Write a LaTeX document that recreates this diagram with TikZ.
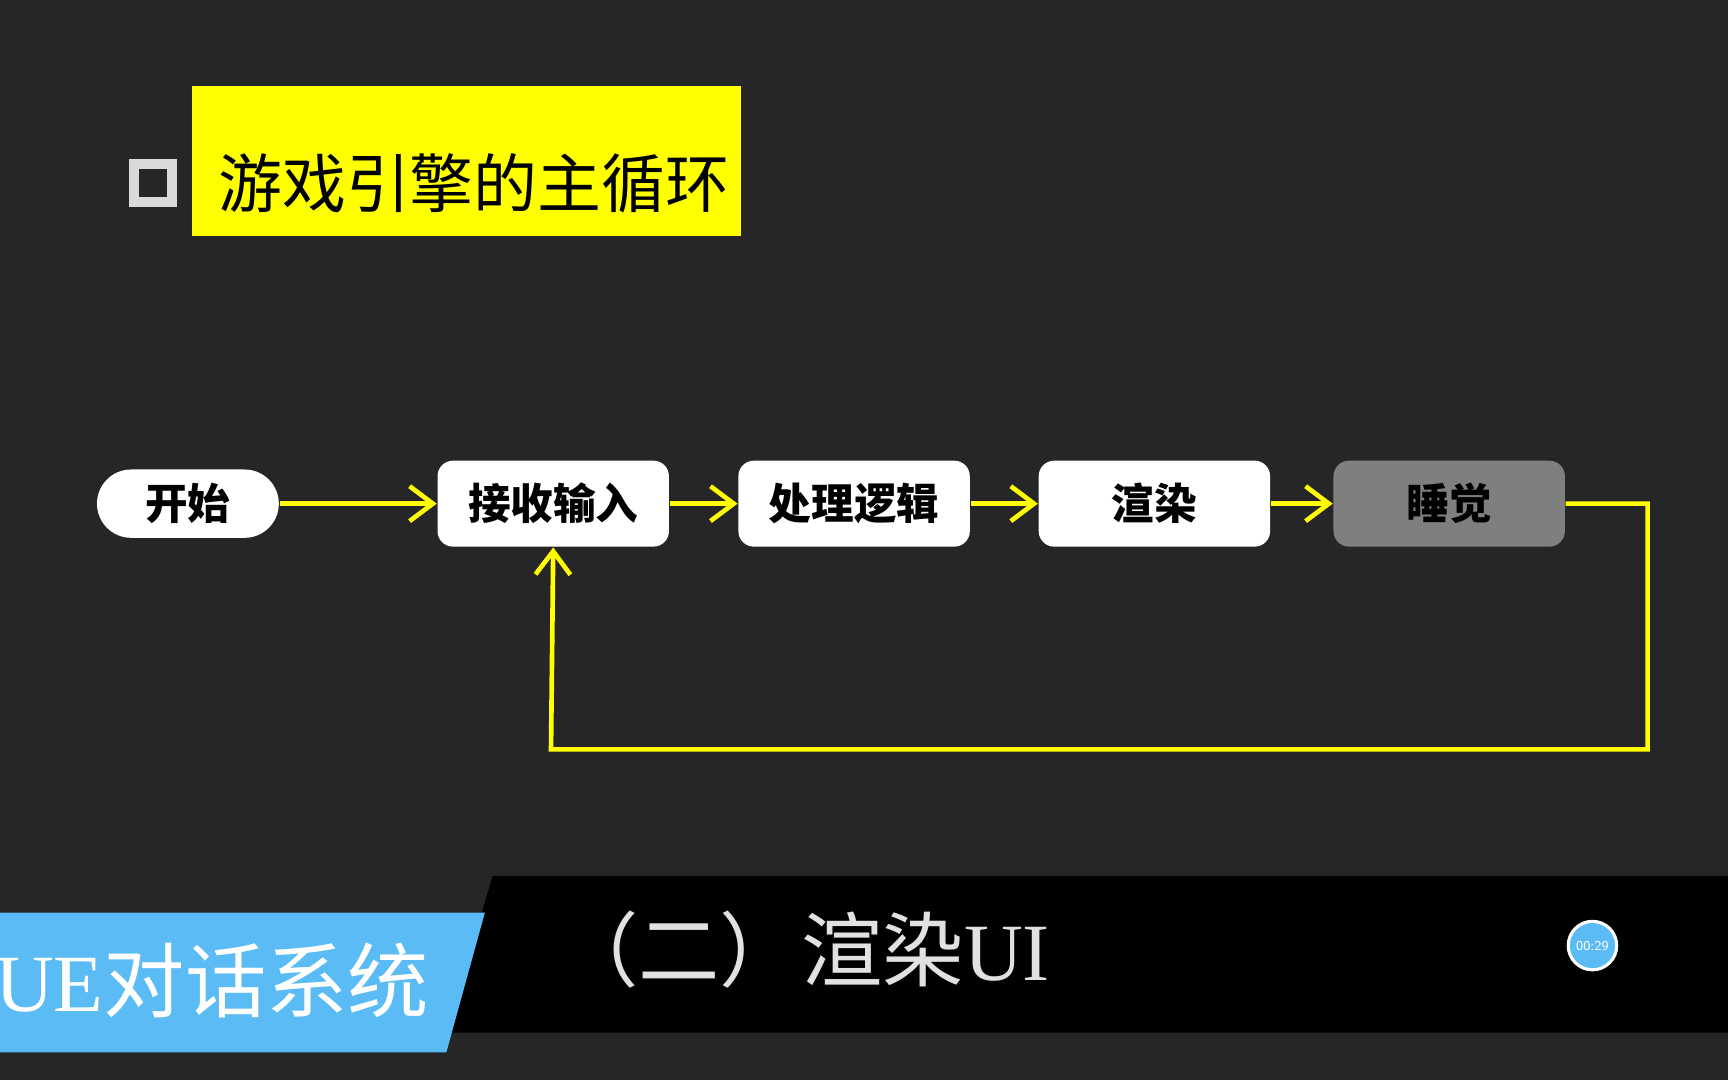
\documentclass[tikz,border=0pt]{standalone}
\usepackage{fontspec}
\newfontfamily\cjk{Noto Sans CJK SC}
\newfontfamily\cjkb{Noto Sans CJK SC Black}
\newfontfamily\serif{Liberation Serif}
\usetikzlibrary{arrows.meta}
\definecolor{bg}{HTML}{262628}
\definecolor{yel}{HTML}{FFFF00}
\definecolor{blu}{HTML}{5BBCF5}
\begin{document}
\begin{tikzpicture}[
  box/.style={fill=white,rounded corners=4pt,minimum width=2.1cm,minimum height=0.78cm,font=\cjkb\fontsize{11}{12}\selectfont,inner sep=0pt},
  flow/.style={draw=yel,line width=1.2pt,-{Straight Barb[length=6pt,width=9pt,line width=1.2pt]}}]
\fill[bg] (0,0) rectangle (15.68,-9.8);
\useasboundingbox (0,0) rectangle (15.68,-9.8);
\draw[draw={rgb,255:red,217;green,217;blue,217},line width=2.6pt] (1.22,-1.49) rectangle (1.56,-1.83);
\node[fill=yel,minimum width=4.98cm,minimum height=1.36cm,inner sep=0pt] (title) at (4.23,-1.46) {};
\node[font=\cjk\fontsize{16.5}{18}\selectfont,inner sep=0pt] (tt) at (4.30,-1.66) {游戏引擎的主循环};
\node[box,rounded corners=0.31cm,minimum width=1.65cm,minimum height=0.62cm] (start) at (1.705,-4.57) {开始};
\node[box] (in) at (5.02,-4.57) {接收输入};
\node[box] (logic) at (7.75,-4.57) {处理逻辑};
\node[box] (rend) at (10.475,-4.57) {渲染};
\node[box,fill={rgb,255:red,127;green,127;blue,127}] (sleep) at (13.15,-4.57) {睡觉};
\draw[flow] (start) -- (in);
\draw[flow] (in) -- (logic);
\draw[flow] (logic) -- (rend);
\draw[flow] (rend) -- (sleep);
\coordinate (c1) at (14.95,-4.57);
\coordinate (c2) at (14.95,-6.8);
\coordinate (c3) at (5.0,-6.8);
\draw[flow] (sleep.east) -- (c1) -- (c2) -- (c3) -- (in.south);
\fill[black] (4.47,-7.95) -- (15.68,-7.95) -- (15.68,-9.37) -- (4.05,-9.37) -- cycle;
\fill[blu] (0,-8.28) -- (4.4,-8.28) -- (4.05,-9.55) -- (0,-9.55) -- cycle;
\node[anchor=west,text=white,font=\serif\fontsize{21}{24}\selectfont,inner sep=0pt] (ue) at (-0.05,-8.9) {UE{\cjk 对话系统}};
\node[anchor=west,text={rgb,255:red,225;green,225;blue,225},font=\serif\fontsize{21}{24}\selectfont,inner sep=0pt] (sub) at (5.05,-8.62) {{\cjk （二）渲染}UI};
\node[circle,fill=blu,draw=white,line width=0.8pt,minimum size=0.44cm,inner sep=0pt,text=white,font=\sffamily\fontsize{3.5}{4}\selectfont] (clk) at (14.45,-8.58) {00:29};
\end{tikzpicture}
\end{document}
